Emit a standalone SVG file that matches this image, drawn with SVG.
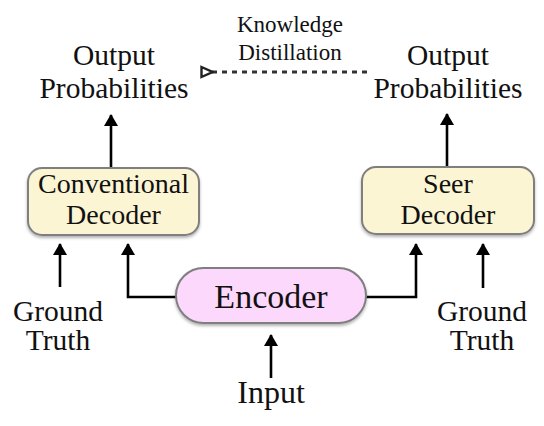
<svg xmlns="http://www.w3.org/2000/svg" width="544" height="426" viewBox="0 0 544 426">
<defs>
<style>
text{font-family:"Liberation Serif","Times New Roman",serif;fill:#111;text-anchor:middle}
.lbl{font-size:29.5px}
.dec{fill:#fcf5d4;stroke:#7f7f7f;stroke-width:2}
.enc{fill:#fcd9fc;stroke:#7f7f7f;stroke-width:2}
.edge{fill:none;stroke:#000;stroke-width:2.6}
.kd{fill:none;stroke:#333;stroke-width:2.8;stroke-dasharray:5 5}
</style>
<marker id="ah" viewBox="0 0 12 14" refX="11" refY="7" markerWidth="12" markerHeight="14" markerUnits="userSpaceOnUse" orient="auto">
<path d="M0,0 L12,7 L0,14 Z" fill="#000"/>
</marker>
<marker id="oh" viewBox="0 0 14 14" refX="2" refY="7" markerWidth="14" markerHeight="14" markerUnits="userSpaceOnUse" orient="auto">
<path d="M12.5,2 L1.5,7 L12.5,12 Z" fill="#fff" stroke="#222" stroke-width="2.4"/>
</marker>
<filter id="sh" x="-10%" y="-10%" width="120%" height="130%">
<feDropShadow dx="0" dy="2" stdDeviation="1.5" flood-color="#000" flood-opacity="0.3"/>
</filter>
</defs>

<g id="connectors">
<path class="edge" d="M111,168 V115" marker-end="url(#ah)"/>
<path class="edge" d="M447,167 V114" marker-end="url(#ah)"/>
<path class="edge" d="M176,297 H128 V244" marker-end="url(#ah)"/>
<path class="edge" d="M366,297 H416 V244" marker-end="url(#ah)"/>
<path class="edge" d="M60,287 V244" marker-end="url(#ah)"/>
<path class="edge" d="M483,288 V244" marker-end="url(#ah)"/>
<path class="edge" d="M271,378 V335" marker-end="url(#ah)"/>
<path class="kd" d="M367,72 H212" marker-end="url(#oh)"/>
<text x="290" y="32" style="font-size:23px">Knowledge</text>
<text x="290" y="60" style="font-size:23px">Distillation</text>
</g>

<g id="out-left">
<text class="lbl" x="114" y="65">Output</text>
<text class="lbl" x="114" y="98">Probabilities</text>
</g>
<g id="out-right">
<text class="lbl" x="448" y="65">Output</text>
<text class="lbl" x="448" y="98">Probabilities</text>
</g>

<g id="conv-decoder">
<rect class="dec" x="28" y="168" width="171" height="67" rx="14" filter="url(#sh)"/>
<text x="113.5" y="193" style="font-size:28px">Conventional</text>
<text x="113.5" y="224" style="font-size:28px">Decoder</text>
</g>
<g id="seer-decoder">
<rect class="dec" x="362" y="167" width="172" height="67" rx="14" filter="url(#sh)"/>
<text x="448" y="193" style="font-size:28px">Seer</text>
<text x="448" y="224" style="font-size:28px">Decoder</text>
</g>

<g id="encoder">
<rect class="enc" x="176" y="268" width="190" height="55" rx="27.5" filter="url(#sh)"/>
<text x="271" y="308" style="font-size:34px">Encoder</text>
</g>

<g id="gt-left">
<text class="lbl" x="58" y="321">Ground</text>
<text class="lbl" x="58" y="350">Truth</text>
</g>
<g id="gt-right">
<text class="lbl" x="482" y="321">Ground</text>
<text class="lbl" x="482" y="350">Truth</text>
</g>

<g id="input">
<text x="271" y="403" style="font-size:32px">Input</text>
</g>
</svg>
